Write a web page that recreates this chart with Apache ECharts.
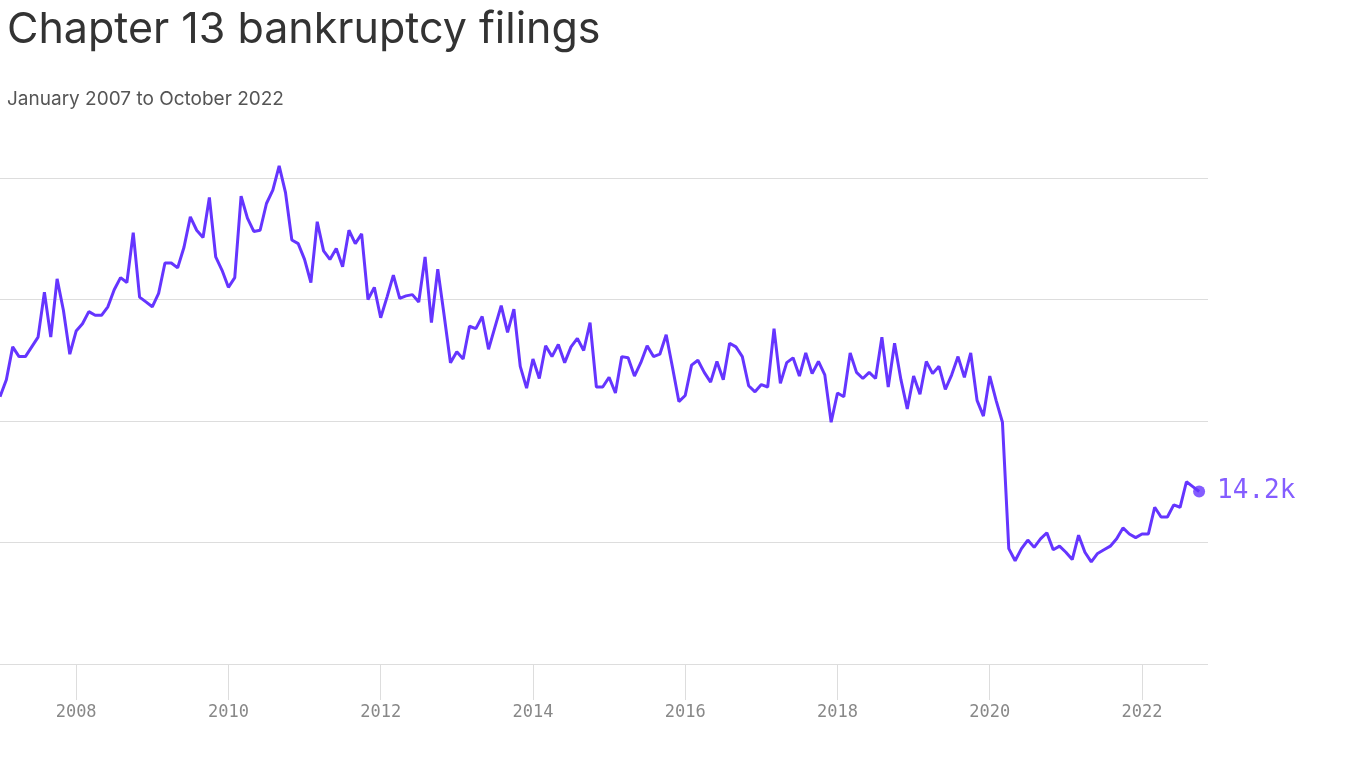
<!DOCTYPE html>
<html>
<head>
<meta charset="utf-8">
<script src="https://cdn.jsdelivr.net/npm/echarts@6/dist/echarts.min.js"></script>
<style>
  html, body { margin: 0; padding: 0; background: #fff; }
  #chart { width: 1366px; height: 768px; }
</style>
</head>
<body>
<div id="chart"></div>
<script>
// monthly filings, thousands, Jan 2007 .. Oct 2022
const y2007 = [22.0, 23.4, 26.1, 25.3, 25.3, 26.1, 26.9, 30.6, 26.9, 31.7, 29.1, 25.5]
const y2008 = [27.4, 28.0, 29.0, 28.7, 28.7, 29.4, 30.8, 31.8, 31.4, 35.5, 30.2, 29.8]
const y2009 = [29.4, 30.5, 33.0, 33.0, 32.6, 34.3, 36.8, 35.7, 35.1, 38.4, 33.5, 32.4]
const y2010 = [31.0, 31.8, 38.5, 36.7, 35.6, 35.7, 37.9, 39.0, 41.0, 38.8, 34.9, 34.6]
const y2011 = [33.3, 31.4, 36.4, 34.0, 33.3, 34.2, 32.7, 35.7, 34.6, 35.4, 30.0, 31.0]
const y2012 = [28.5, 30.2, 32.0, 30.1, 30.3, 30.4, 29.8, 33.5, 28.1, 32.5, 28.7, 24.8]
const y2013 = [25.7, 25.1, 27.8, 27.6, 28.6, 25.9, 27.7, 29.5, 27.3, 29.2, 24.5, 22.7]
const y2014 = [25.1, 23.5, 26.2, 25.3, 26.3, 24.8, 26.1, 26.8, 25.8, 28.1, 22.8, 22.8]
const y2015 = [23.6, 22.3, 25.3, 25.2, 23.7, 24.8, 26.2, 25.3, 25.5, 27.1, 24.4, 21.6]
const y2016 = [22.1, 24.6, 25.0, 24.0, 23.2, 24.9, 23.4, 26.4, 26.1, 25.3, 22.9, 22.4]
const y2017 = [23.0, 22.8, 27.6, 23.1, 24.8, 25.2, 23.7, 25.6, 23.9, 24.9, 23.8, 19.9]
const y2018 = [22.3, 22.0, 25.6, 24.0, 23.5, 24.0, 23.5, 26.9, 22.8, 26.4, 23.4, 21.0]
const y2019 = [23.7, 22.2, 24.9, 23.9, 24.5, 22.6, 23.8, 25.3, 23.6, 25.6, 21.7, 20.4]
const y2020 = [23.7, 21.7, 19.9, 9.5, 8.5, 9.5, 10.2, 9.6, 10.3, 10.8, 9.4, 9.7]
const y2021 = [9.2, 8.6, 10.6, 9.2, 8.4, 9.1, 9.4, 9.7, 10.3, 11.2, 10.7, 10.4]
const y2022 = [10.7, 10.7, 12.9, 12.1, 12.1, 13.1, 12.9, 15.0, 14.6, 14.2]

const tickYears = [2008, 2010, 2012, 2014, 2016, 2018, 2020, 2022]
const startYear = 2007

const values = [].concat(y2007, y2008, y2009, y2010, y2011, y2012, y2013, y2014,
  y2015, y2016, y2017, y2018, y2019, y2020, y2021, y2022)
const points = values.map((v, i) => [i, v])
const last = points[points.length - 1]
const tickIdx = tickYears.map((y) => (y - startYear) * 12)

const purple = '#6535ff'
const mono = '"DejaVu Sans Mono", "Liberation Mono", monospace'

const chart = echarts.init(document.getElementById('chart'))
chart.setOption({
  animation: false,
  backgroundColor: '#fff',
  title: [
    {
      text: 'Chapter 13 bankruptcy filings',
      left: 2,
      top: 4,
      textStyle: { fontFamily: 'Inter, "Noto Sans", sans-serif', fontSize: 43, fontWeight: 'normal', color: '#333' },
    },
    {
      text: 'January 2007 to October 2022',
      left: 2,
      top: 85,
      textStyle: { fontFamily: 'Inter, "Noto Sans", sans-serif', fontSize: 19, fontWeight: 'normal', color: '#555' },
    },
  ],
  grid: { left: -8, right: 158, top: 178, bottom: 104 },
  xAxis: {
    type: 'value',
    min: 0,
    max: 190.4,
    splitLine: { show: false },
    axisLine: { show: false },
    axisTick: {
      show: true,
      customValues: tickIdx,
      length: 36,
      lineStyle: { color: '#ddd' },
    },
    axisLabel: {
      customValues: tickIdx,
      margin: 40,
      color: '#888',
      fontFamily: mono,
      fontSize: 17,
      formatter: (v) => String(startYear + Math.round(v / 12)),
    },
  },
  yAxis: {
    type: 'value',
    min: 0,
    max: 40,
    interval: 10,
    axisLabel: { show: false },
    axisLine: { show: false },
    axisTick: { show: false },
    splitLine: { lineStyle: { color: '#ddd', width: 1 } },
  },
  series: [
    {
      type: 'line',
      data: points,
      showSymbol: false,
      lineStyle: { color: purple, width: 3 },
      clip: false,
    },
    {
      type: 'scatter',
      data: [last],
      symbolSize: 12,
      itemStyle: { color: purple },
      label: {
        show: true,
        position: 'right',
        distance: 12,
        color: purple,
        fontFamily: mono,
        fontSize: 26,
        formatter: (p) => p.value[1].toFixed(1) + 'k',
      },
    },
  ],
})
</script>
</body>
</html>
